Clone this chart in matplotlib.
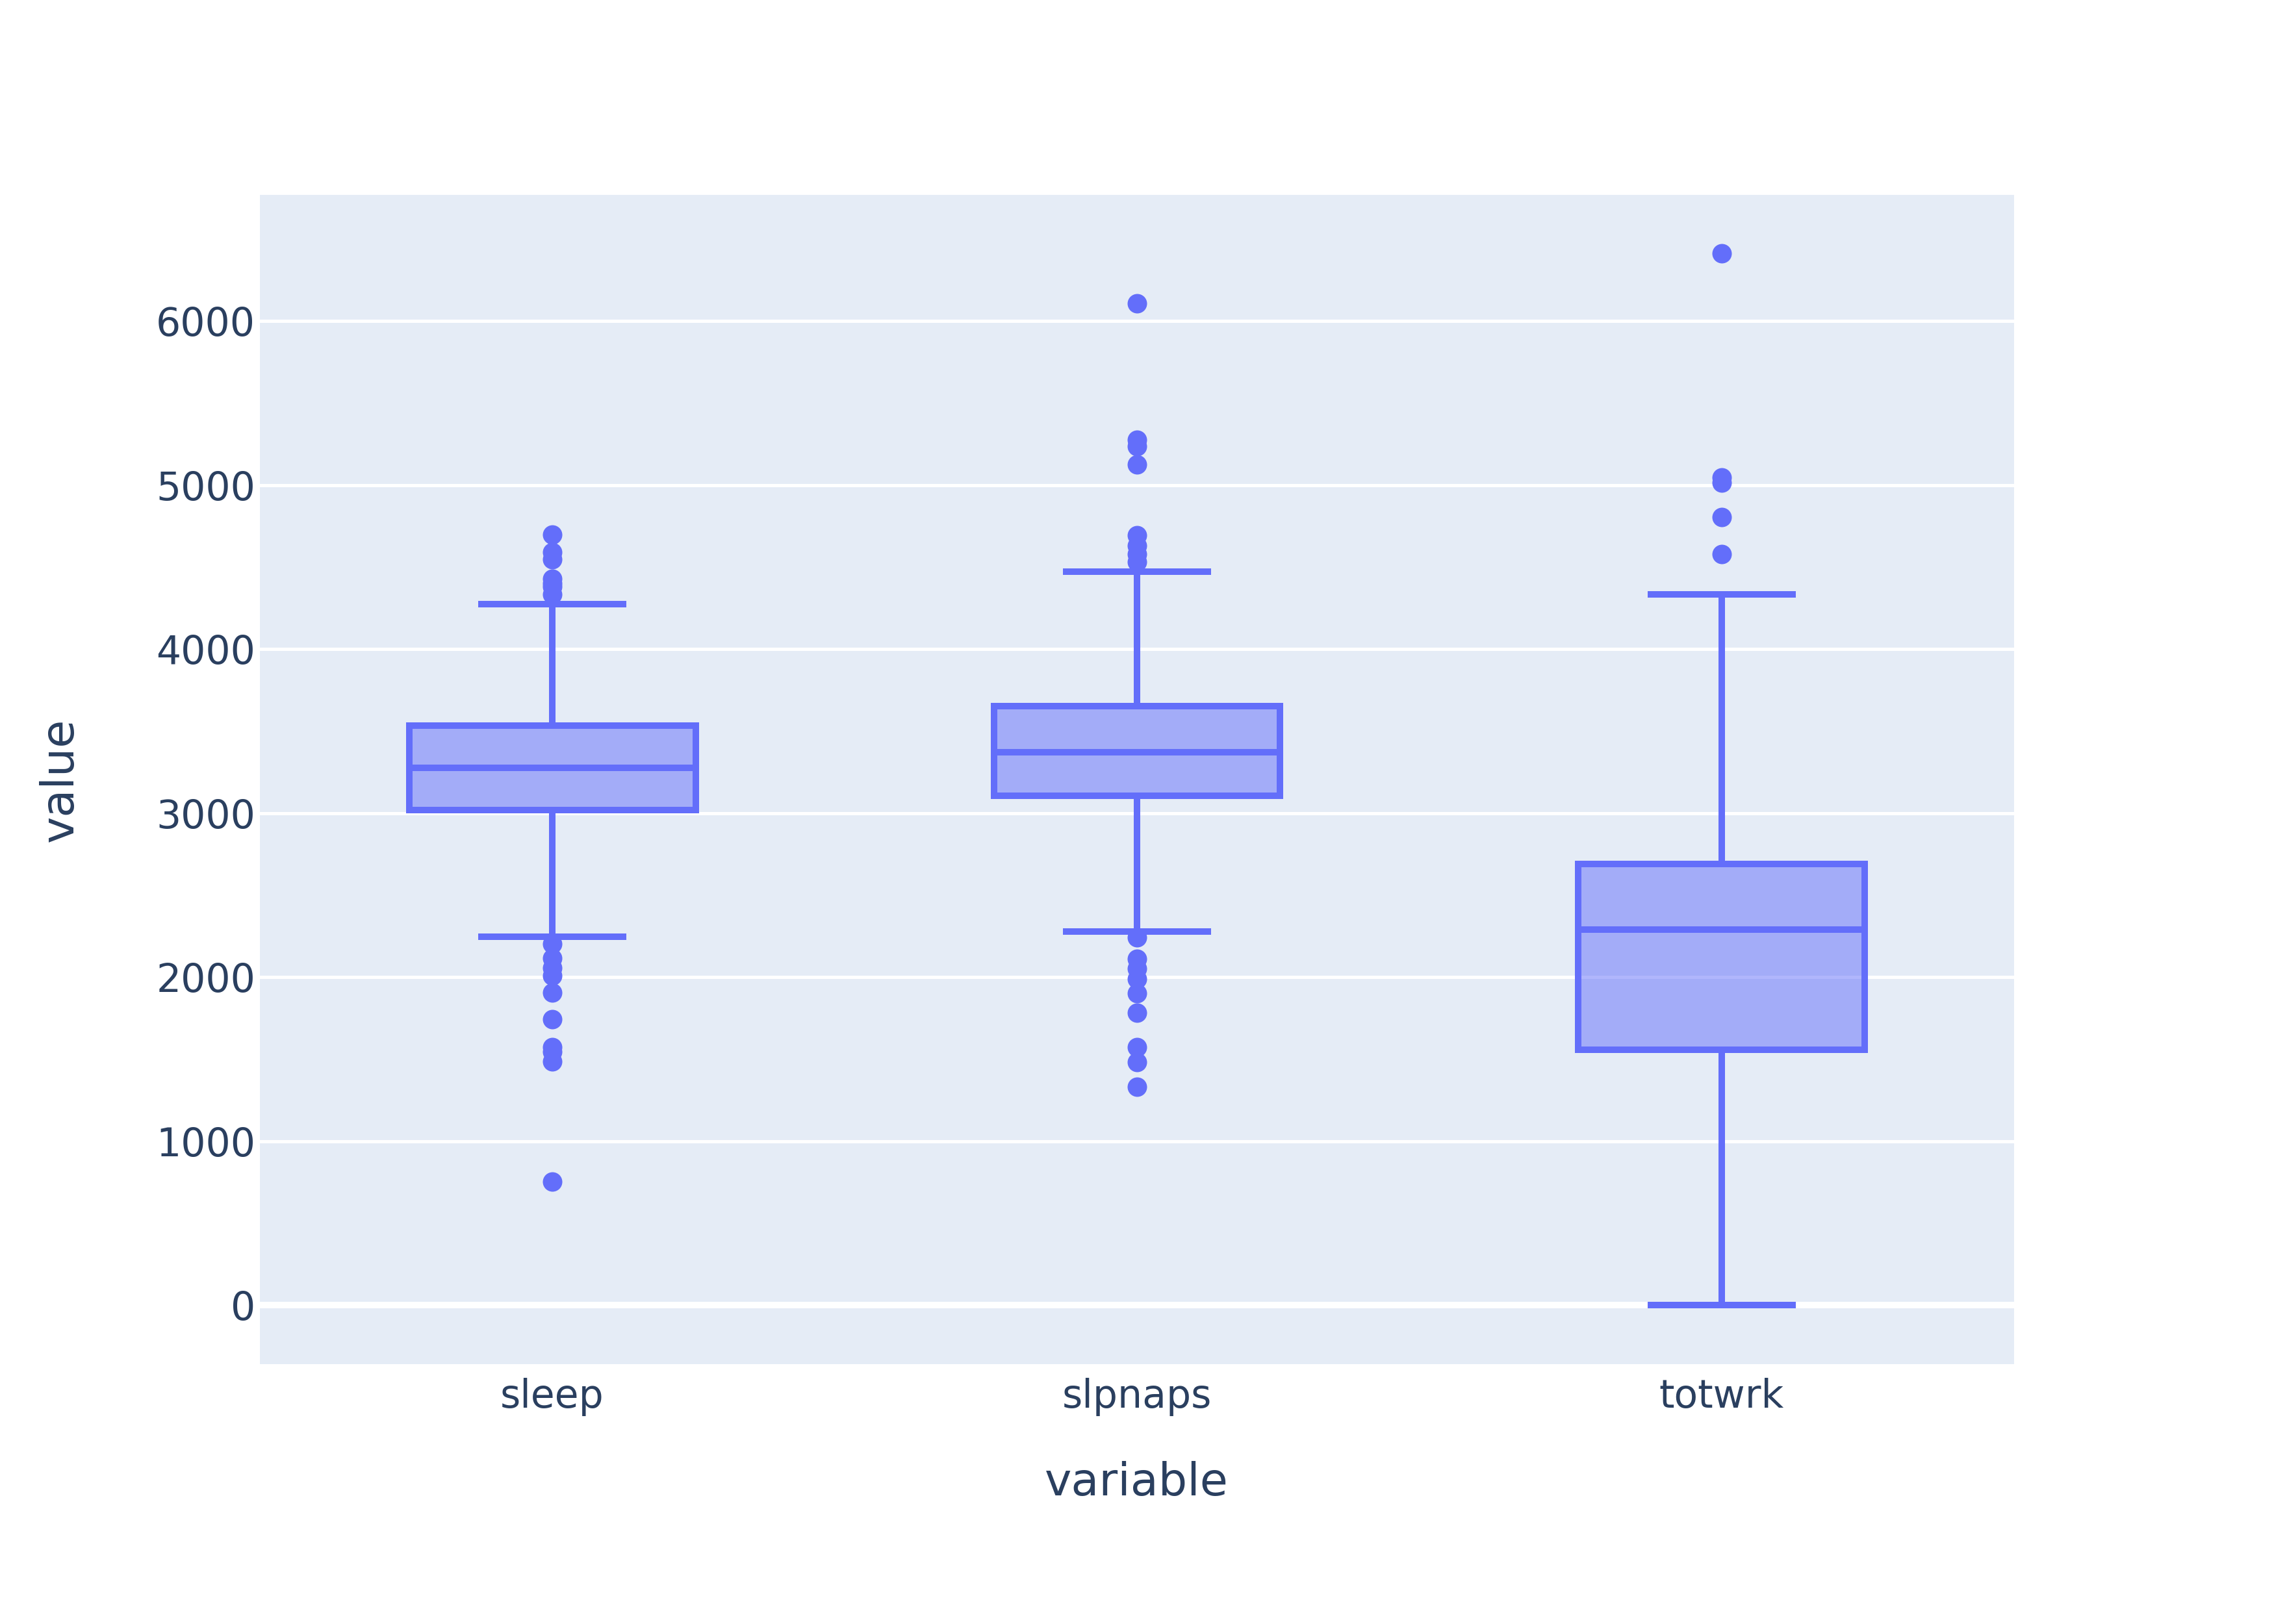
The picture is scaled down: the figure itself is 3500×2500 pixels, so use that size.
import matplotlib
matplotlib.use('Agg')
import matplotlib.pyplot as plt

# values
categories = ['sleep', 'slpnaps', 'totwrk']
q1 = [3020, 3105, 1556]
medians = [3275, 3370, 2289]
q3 = [3535, 3651, 2689]
whisker_lo = [2246, 2277, 0]
whisker_hi = [4276, 4471, 4333]
fliers_sleep = [4700, 4591, 4548, 4429, 4400, 4381, 4333,
                2202, 2115, 2056, 2008, 1905, 1742, 1575, 1544, 1484, 754]
fliers_slpnaps = [6110, 5275, 5236, 5125, 4693, 4630, 4578, 4531,
                  2242, 2111, 2052, 1988, 1901, 1782, 1572, 1481, 1333]
fliers_totwrk = [6415, 5045, 5015, 4804, 4578]
yticks = [0, 1000, 2000, 3000, 4000, 5000, 6000]

blue = '#636efa'
text_col = '#2a3f5f'
plt.rcParams['font.family'] = ['DejaVu Sans']

fig = plt.figure(figsize=(35, 25), dpi=100)
ax = fig.add_axes([0.1143, 0.16, 0.7714, 0.72])
ax.set_facecolor('#e5ecf6')

stats = []
for i, name in enumerate(categories):
    stats.append({
        'label': name,
        'q1': q1[i], 'med': medians[i], 'q3': q3[i],
        'whislo': whisker_lo[i], 'whishi': whisker_hi[i],
        'fliers': [fliers_sleep, fliers_slpnaps, fliers_totwrk][i],
    })

lw = 7.2
ax.bxp(stats, positions=range(len(categories)), widths=0.49, capwidths=0.243,
       patch_artist=True, showfliers=True,
       boxprops=dict(facecolor=(99/255, 110/255, 250/255, 0.5), edgecolor=blue, linewidth=lw),
       medianprops=dict(color=blue, linewidth=lw),
       whiskerprops=dict(color=blue, linewidth=lw),
       capprops=dict(color=blue, linewidth=lw),
       flierprops=dict(marker='o', markerfacecolor=blue, markeredgecolor='none',
                       markersize=21.6, linestyle='none'),
       zorder=3)

ax.set_xlim(-0.5, 2.5)
ax.set_ylim(-360, 6770)
ax.set_yticks(yticks)
ax.set_yticklabels([str(v) for v in yticks])
ax.set_xticks(range(len(categories)))
ax.set_xticklabels(categories)

ax.grid(axis='y', color='white', linewidth=3.6, zorder=0)
ax.axhline(0, color='white', linewidth=7.2, zorder=1)
ax.set_axisbelow(True)
for s in ax.spines.values():
    s.set_visible(False)
ax.tick_params(axis='both', length=0, labelsize=43.2, labelcolor=text_col)
ax.tick_params(axis='y', pad=5)
ax.tick_params(axis='x', pad=15)

fig.text(0.4997, 0.0792, 'variable', ha='center', va='baseline', fontsize=50.4, color=text_col)
fig.text(92 / 3500, 0.52, 'value', ha='center', va='center', rotation=90, fontsize=50.4, color=text_col)

fig.savefig('out.png', dpi=100, facecolor='white')
